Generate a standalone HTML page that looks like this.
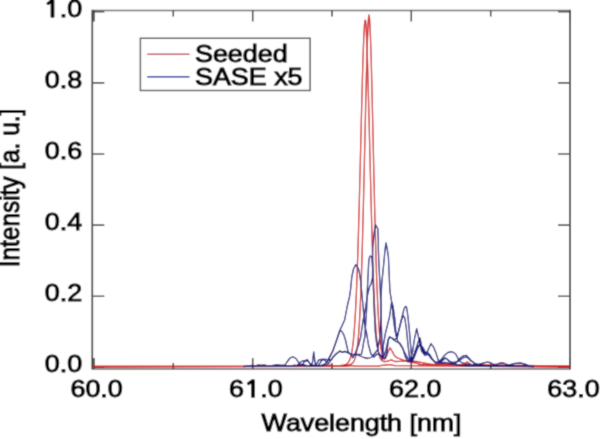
<!DOCTYPE html>
<html><head><meta charset="utf-8"><style>
html,body{margin:0;padding:0;background:#fff;}
svg{display:block;}
text{font-family:"Liberation Sans",Arial,sans-serif;font-size:24px;fill:#000;stroke:#000;stroke-width:1.05px;}
.o{font-family:"NanumGothic","Liberation Sans",sans-serif;stroke-width:1.7px;}
</style></head><body>
<svg width="600" height="439" viewBox="0 0 600 439">
<rect width="600" height="439" fill="#fff"/>
<defs><filter id="bl" x="0" y="0" width="600" height="439" filterUnits="userSpaceOnUse"><feConvolveMatrix order="3" kernelMatrix="0.0277 0.1110 0.0277 0.1110 0.4452 0.1110 0.0277 0.1110 0.0277" divisor="1" edgeMode="duplicate"/></filter></defs>
<g filter="url(#bl)">
<rect width="600" height="439" fill="#fff"/>
<path d="M92.3,9.8V369.59999999999997M570.0,9.8V369.59999999999997" stroke="#262626" stroke-width="1.6"/>
<path d="M92.3,10.5H570.0M92.3,368.9H570.0" stroke="#6e6e6e" stroke-width="1.5"/>
<path d="M92.3,367.3h12M570.0,367.3h-12" stroke="#555" stroke-width="1.6"/>
<path d="M92.3,296.2h12M570.0,296.2h-12" stroke="#555" stroke-width="1.6"/>
<path d="M92.3,225.1h12M570.0,225.1h-12" stroke="#555" stroke-width="1.6"/>
<path d="M92.3,154.0h12M570.0,154.0h-12" stroke="#555" stroke-width="1.6"/>
<path d="M92.3,82.9h12M570.0,82.9h-12" stroke="#555" stroke-width="1.6"/>
<path d="M92.3,11.8h12M570.0,11.8h-12" stroke="#555" stroke-width="1.6"/>
<path d="M94.0,368.9v-11M94.0,10.5v11" stroke="#333" stroke-width="1.5"/>
<path d="M173.3,368.9v-6M173.3,10.5v6" stroke="#333" stroke-width="1.5"/>
<path d="M252.7,368.9v-11M252.7,10.5v11" stroke="#333" stroke-width="1.5"/>
<path d="M332.0,368.9v-6M332.0,10.5v6" stroke="#333" stroke-width="1.5"/>
<path d="M411.3,368.9v-11M411.3,10.5v11" stroke="#333" stroke-width="1.5"/>
<path d="M490.7,368.9v-6M490.7,10.5v6" stroke="#333" stroke-width="1.5"/>
<path d="M570.0,368.9v-11M570.0,10.5v11" stroke="#333" stroke-width="1.5"/>
<text transform="translate(82.2,372.2) scale(1.12,1)" text-anchor="end">0.0</text>
<text transform="translate(82.2,301.1) scale(1.12,1)" text-anchor="end">0.2</text>
<text transform="translate(82.2,230.0) scale(1.12,1)" text-anchor="end">0.4</text>
<text transform="translate(82.2,158.9) scale(1.12,1)" text-anchor="end">0.6</text>
<text transform="translate(82.2,87.8) scale(1.12,1)" text-anchor="end">0.8</text>
<text transform="translate(82.2,16.7) scale(1.12,1)" text-anchor="end"><tspan class="o">1</tspan>.0</text>
<text transform="translate(96.6,396.8) scale(1.12,1)" text-anchor="middle">60.0</text>
<text transform="translate(255.8,396.8) scale(1.12,1)" text-anchor="middle">6<tspan class="o">1</tspan>.0</text>
<text transform="translate(415.2,396.8) scale(1.12,1)" text-anchor="middle">62.0</text>
<text transform="translate(573.5,396.8) scale(1.12,1)" text-anchor="middle">63.0</text>
<text transform="translate(261.6,431) scale(1.14,1)" style="font-size:23.5px">Wavelength [nm]</text>
<text transform="translate(19.4,188) rotate(-90) scale(1,1.10)" text-anchor="middle" style="font-size:24.4px">Intensity [a. u.]</text>
<rect x="140.4" y="38.3" width="169.7" height="52.2" fill="#fff" stroke="#4a4a4a" stroke-width="1.4"/>
<path d="M147.2,54.2H189.5" stroke="#c05a5a" stroke-width="1.5"/>
<path d="M147.2,76.7H189.5" stroke="#2c2ca0" stroke-width="1.5"/>
<text transform="translate(195,61.9) scale(1.12,1)">Seeded</text>
<text transform="translate(195,85) scale(1.12,1)">SASE x5</text>
<path d="M93.0,367.2 345.0,366.4 345.5,366.3 346.0,366.3 346.5,366.2 347.0,366.2 347.5,366.1 348.0,366.1 348.5,366.1 349.0,366.0 349.5,365.9 350.0,365.9 350.5,365.8 351.0,365.8 351.5,365.8 352.0,365.7 352.5,365.8 353.0,365.8 353.5,365.9 354.0,365.9 354.5,366.0 355.0,366.1 355.5,366.1 356.0,366.2 378.0,366.2 378.5,366.1 379.0,366.0 379.5,365.9 380.0,365.8 380.5,365.7 381.0,365.6 381.5,365.5 382.0,365.4 382.5,365.3 383.0,365.2 383.5,365.2 384.0,365.1 384.5,365.1 385.0,365.1 385.5,365.0 386.0,365.0 386.5,364.9 387.0,364.9 387.5,364.9 388.0,364.8 388.5,364.8 389.0,364.8 389.5,364.7 390.0,364.7 390.5,364.8 391.0,364.9 391.5,365.0 392.0,365.1 392.5,365.2 393.0,365.3 393.5,365.4 394.0,365.5 394.5,365.6 395.0,365.7 569.5,367.1 570.0,367.2" fill="none" stroke="#d01818" stroke-width="1.3" stroke-linejoin="round"/>
<path d="M93.0,366.3 290.0,366.3 290.5,366.2 291.0,366.0 291.5,365.9 292.0,365.8 292.5,365.6 293.0,365.5 293.5,365.4 294.0,365.2 294.5,365.1 295.0,365.2 295.5,365.4 296.0,365.5 296.5,365.6 297.0,365.8 297.5,365.9 298.0,366.0 298.5,366.2 299.0,366.3 326.0,366.3 326.5,366.1 327.0,366.0 327.5,365.8 328.0,365.7 328.5,365.5 329.0,365.4 329.5,365.2 330.0,365.1 330.5,365.2 331.0,365.3 331.5,365.4 332.0,365.5 332.5,365.7 333.0,365.8 333.5,365.9 334.0,366.0 345.0,365.5 345.5,365.4 346.0,365.4 346.5,365.3 347.0,365.2 347.5,365.1 348.0,365.0 348.5,364.9 349.0,364.8 349.5,364.7 350.0,364.6 350.5,364.4 351.0,364.1 351.5,363.9 352.0,363.5 352.5,363.1 353.0,362.5 353.5,361.9 354.0,361.0 354.5,360.0 355.0,358.6 355.5,357.0 356.0,354.9 356.5,352.2 357.0,349.0 357.5,345.4 358.0,340.9 358.5,335.4 359.0,328.8 359.5,320.9 360.0,311.6 360.5,300.6 361.0,287.9 361.5,273.6 362.0,257.6 362.5,240.1 363.0,221.0 363.5,200.7 364.0,179.3 364.5,157.3 365.0,134.9 365.5,112.8 366.0,91.4 366.5,71.4 367.0,53.4 367.5,38.1 368.0,26.1 368.5,18.1 369.0,15.0 369.5,18.1 370.0,26.1 370.5,38.2 371.0,53.6 371.5,71.6 372.0,91.7 372.5,113.1 373.0,135.3 373.5,157.7 374.0,179.8 374.5,201.3 375.0,221.7 375.5,240.8 376.0,258.4 376.5,273.7 377.0,287.4 377.5,299.5 378.0,310.0 378.5,318.9 379.0,326.5 379.5,333.4 380.0,339.2 380.5,344.0 381.0,348.0 381.5,351.2 382.0,353.6 382.5,355.5 383.0,357.0 383.5,358.2 384.0,359.0 384.5,358.9 385.0,358.5 385.5,358.1 386.0,357.5 386.5,356.2 387.0,354.9 387.5,353.5 388.0,352.1 388.5,351.0 389.0,350.0 389.5,348.9 390.0,347.8 390.5,348.6 391.0,349.4 391.5,350.2 392.0,351.0 392.5,351.9 393.0,352.9 393.5,353.9 394.0,354.9 394.5,355.6 395.0,356.0 395.5,356.5 396.0,357.0 396.5,357.4 397.0,357.7 397.5,357.9 398.0,358.1 398.5,358.3 399.0,358.5 399.5,358.7 400.0,358.9 400.5,359.1 401.0,359.3 401.5,359.5 402.0,359.7 402.5,359.9 403.0,360.0 403.5,360.2 404.0,360.4 404.5,360.6 405.0,360.7 405.5,360.9 406.0,361.0 406.5,361.2 407.0,361.3 407.5,361.5 408.0,361.6 408.5,361.8 409.0,361.9 409.5,362.1 410.0,362.2 410.5,362.3 411.0,362.3 411.5,362.4 412.0,362.5 412.5,362.5 413.0,362.6 413.5,362.7 414.0,362.7 414.5,362.8 415.0,362.9 415.5,362.9 416.0,363.0 416.5,363.1 417.0,363.2 417.5,363.4 418.0,363.7 418.5,363.9 419.0,364.1 419.5,364.3 420.0,364.5 420.5,364.5 421.0,364.6 421.5,364.6 422.0,364.6 422.5,364.7 423.0,364.7 423.5,364.7 424.0,364.8 424.5,364.8 425.0,364.8 425.5,364.8 426.0,364.9 426.5,364.9 427.0,364.9 427.5,365.0 428.0,365.0 463.0,364.8 463.5,364.5 464.0,364.1 464.5,363.8 465.0,363.4 465.5,363.1 466.0,362.7 466.5,362.4 467.0,362.0 467.5,362.0 468.0,362.4 468.5,362.8 469.0,363.2 469.5,363.6 470.0,364.0 470.5,364.4 471.0,364.8 471.5,364.9 472.0,364.9 472.5,364.9 473.0,365.0 473.5,365.1 474.0,365.1 474.5,365.2 475.0,365.2 475.5,365.2 476.0,365.3 476.5,365.4 477.0,365.4 477.5,365.4 478.0,365.5 478.5,365.6 479.0,365.6 479.5,365.7 480.0,365.7 569.5,366.1 570.0,366.3" fill="none" stroke="#d01818" stroke-width="1.3" stroke-linejoin="round"/>
<path d="M93.0,366.3 260.0,366.3 260.5,366.2 261.0,366.0 261.5,365.9 262.0,365.7 262.5,365.6 263.0,365.4 263.5,365.2 264.0,365.1 264.5,365.2 265.0,365.4 265.5,365.6 266.0,365.7 266.5,365.9 267.0,366.0 267.5,366.2 268.0,366.3 340.0,365.7 340.5,365.6 341.0,365.5 341.5,365.5 342.0,365.4 342.5,365.3 343.0,365.2 343.5,365.1 344.0,365.0 344.5,364.9 345.0,364.7 345.5,364.5 346.0,364.3 346.5,364.1 347.0,363.7 347.5,363.3 348.0,362.8 348.5,362.1 349.0,361.3 349.5,360.4 350.0,359.1 350.5,357.7 351.0,355.9 351.5,353.7 352.0,350.9 352.5,347.6 353.0,343.6 353.5,339.1 354.0,333.7 354.5,327.3 355.0,319.8 355.5,311.1 356.0,301.1 356.5,289.9 357.0,277.2 357.5,263.2 358.0,247.8 358.5,231.1 359.0,213.2 359.5,194.3 360.0,174.6 360.5,154.2 361.0,133.7 361.5,113.5 362.0,93.9 362.5,75.6 363.0,59.0 363.5,44.6 364.0,33.0 364.5,24.6 365.0,20.1 365.5,20.6 366.0,26.0 366.5,35.1 367.0,47.3 367.5,62.2 368.0,79.2 368.5,97.8 369.0,117.5 369.5,137.8 370.0,158.3 370.5,178.6 371.0,198.4 371.5,217.4 372.0,235.3 372.5,252.0 373.0,267.4 373.5,281.4 374.0,294.0 374.5,305.3 375.0,315.2 375.5,323.8 376.0,331.2 376.5,337.2 377.0,342.1 377.5,346.2 378.0,349.6 378.5,352.3 379.0,354.4 379.5,356.2 380.0,357.7 380.5,358.8 381.0,359.7 381.5,360.3 382.0,360.7 382.5,361.0 383.0,361.2 383.5,361.4 384.0,361.5 384.5,361.5 385.5,361.5 386.0,361.5 386.5,361.4 387.0,361.3 387.5,361.2 388.0,361.1 388.5,360.9 389.0,360.7 389.5,360.5 390.0,360.3 390.5,360.1 391.0,359.9 391.5,359.9 392.0,360.2 392.5,360.4 393.0,360.6 393.5,360.8 394.0,361.1 394.5,361.3 395.0,361.5 400.0,361.3 400.5,361.3 401.0,361.2 401.5,361.2 402.0,361.2 402.5,361.1 403.0,361.1 416.5,361.5 417.0,361.6 417.5,361.7 418.0,361.8 418.5,361.9 419.0,362.0 419.5,362.1 420.0,362.2 420.5,362.4 421.0,362.5 421.5,362.6 422.0,362.7 422.5,362.8 423.0,362.9 423.5,363.0 424.0,363.1 424.5,363.1 425.0,363.2 425.5,363.3 426.0,363.4 426.5,363.5 427.0,363.6 427.5,363.7 428.0,363.7 428.5,363.8 429.0,363.9 429.5,364.0 430.0,364.1 430.5,364.2 431.0,364.2 431.5,364.3 432.0,364.4 432.5,364.5 433.0,364.5 433.5,364.4 434.0,364.4 434.5,364.3 435.0,364.3 435.5,364.2 436.0,364.2 436.5,364.2 437.0,364.1 437.5,364.1 438.0,364.0 438.5,364.0 439.0,363.9 439.5,363.9 440.0,363.8 440.5,363.8 441.0,363.8 441.5,363.7 442.0,363.7 442.5,363.8 443.0,363.8 443.5,363.9 444.0,364.0 444.5,364.0 445.0,364.1 445.5,364.1 446.0,364.2 446.5,364.2 447.0,364.3 569.5,366.1 570.0,366.3" fill="none" stroke="#d01818" stroke-width="1.3" stroke-linejoin="round"/>
<path d="M243.0,366.5 250.0,366.0 255.0,365.8 259.0,365.0 262.0,366.0 268.0,366.2 275.0,365.5 280.0,365.4 284.0,365.6 288.0,366.0 296.0,366.2 300.0,365.6 304.0,364.8 308.0,365.8 311.0,365.5 312.6,362.0 313.7,351.9 315.0,362.0 316.0,365.2 320.0,365.6 323.0,365.0 326.8,362.4 330.0,356.4 332.8,351.0 336.0,341.9 338.2,335.5 339.6,330.9 341.9,326.0 344.6,320.0 347.3,306.0 349.6,296.4 350.7,288.5 351.8,277.0 353.5,269.0 355.8,264.6 358.1,268.0 359.2,271.4 360.5,280.0 362.5,300.5 363.9,315.5 364.6,325.0 366.6,333.0 368.5,345.0 371.0,354.0 374.0,357.0 377.0,354.0 380.6,355.4 383.5,356.9 386.0,350.0 388.3,339.2 389.6,336.7 393.0,339.0 396.0,341.5 399.1,343.0 402.3,347.8 406.3,355.8 409.5,361.4 411.1,361.4 413.0,357.0 416.7,347.8 419.9,344.7 423.1,347.8 426.5,354.3 428.3,354.3 431.8,359.0 435.4,362.6 438.0,362.0 441.3,361.4 445.4,357.9 449.6,361.4 455.0,364.5 462.0,365.5 470.0,366.0 480.0,366.2 534.0,366.3" fill="none" stroke="#18187c" stroke-width="1.3" stroke-linejoin="round"/>
<path d="M245.0,366.3 252.0,365.5 258.0,366.0 266.0,365.6 272.0,366.0 280.0,365.8 285.0,365.0 287.0,362.0 290.0,358.0 293.0,356.8 296.0,358.5 299.0,363.2 301.0,365.0 306.0,366.0 312.0,365.5 318.0,366.0 324.0,365.5 328.0,364.0 331.0,360.0 333.7,356.4 336.4,353.7 340.0,351.0 341.9,352.3 344.6,351.4 347.3,352.3 350.0,353.7 352.8,354.6 356.5,354.4 359.2,354.4 361.3,354.7 362.3,350.3 363.5,343.0 364.8,337.0 365.6,325.0 366.6,310.0 367.3,291.0 368.0,277.0 368.7,262.0 369.4,257.5 370.2,256.0 371.2,256.5 372.1,258.5 372.8,270.0 373.5,291.0 374.2,310.0 375.3,332.0 376.7,344.0 378.3,351.7 382.5,359.2 383.4,345.0 385.5,332.9 389.6,316.5 391.6,302.0 393.0,306.0 395.0,320.0 396.0,335.0 398.0,342.0 400.0,343.3 402.5,347.5 405.0,355.8 407.5,361.7 410.0,360.8 412.7,351.0 414.3,339.9 416.7,328.7 419.1,339.9 421.5,351.0 423.9,354.2 426.0,352.0 427.8,352.6 430.0,355.0 433.0,360.0 436.0,363.0 440.0,361.0 444.9,354.9 448.0,352.5 452.0,351.7 455.5,353.7 459.0,360.2 461.4,362.6 466.0,363.8 472.0,364.6 478.0,364.5 483.0,363.2 487.0,362.2 490.0,362.5 494.0,364.5 497.0,364.2 500.0,363.0 503.0,362.9 507.0,364.5 512.0,365.8 520.0,366.2 534.0,366.5" fill="none" stroke="#18187c" stroke-width="1.3" stroke-linejoin="round"/>
<path d="M247.0,366.4 254.0,366.0 260.0,365.4 265.0,366.0 273.0,365.8 281.0,366.0 290.0,366.2 297.0,365.8 300.6,362.0 303.0,360.7 305.0,361.5 307.3,359.5 309.5,363.0 312.0,365.8 318.0,365.8 322.7,359.2 331.0,360.0 333.7,356.4 336.4,353.7 340.0,351.0 341.9,352.3 344.6,351.4 347.3,352.3 350.0,353.7 352.8,354.6 356.5,354.4 360.0,356.0 364.0,357.5 368.0,358.5 372.0,357.0 375.0,353.0 377.5,350.0 379.5,340.0 380.7,325.0 381.0,310.0 381.0,298.0 381.7,284.0 383.7,264.0 385.0,250.0 386.0,242.8 387.3,249.6 388.4,256.8 389.0,270.5 389.9,291.0 391.6,301.5 392.6,310.0 393.0,316.0 395.2,331.9 397.2,338.5 399.1,328.7 402.3,316.0 404.0,309.0 405.5,306.4 406.5,307.0 407.9,316.0 409.5,331.9 411.1,351.0 411.9,360.6 414.0,358.0 417.0,350.0 419.7,344.3 422.0,347.0 424.0,352.0 426.5,354.3 428.3,349.6 430.9,343.7 433.6,347.2 436.0,353.1 438.3,360.2 441.3,361.4 443.0,359.5 445.4,357.9 447.5,359.5 449.6,361.4 453.0,362.5 457.0,362.0 460.0,360.0 463.0,358.0 466.0,357.0 468.0,358.0 471.0,361.0 475.0,363.5 480.0,365.0 485.0,366.0 534.0,366.3" fill="none" stroke="#18187c" stroke-width="1.3" stroke-linejoin="round"/>
<path d="M249.0,366.2 256.0,365.8 263.0,365.2 270.0,366.0 277.0,365.0 283.0,365.6 291.0,366.0 298.0,365.5 303.0,363.8 305.0,360.5 308.0,361.0 310.0,364.0 314.0,365.5 317.0,363.5 318.7,359.9 321.0,359.5 324.6,359.9 326.8,362.4 330.0,356.4 332.8,351.0 336.0,341.9 338.2,335.5 339.6,331.5 340.8,330.6 342.2,332.0 343.7,334.6 345.5,340.0 346.8,346.0 348.3,352.3 351.0,354.7 352.7,357.8 355.1,353.7 357.2,348.2 358.7,344.7 360.7,337.0 362.8,322.0 365.2,310.0 367.5,295.0 369.4,287.0 371.0,284.0 372.5,278.0 372.6,268.0 372.4,258.0 372.8,246.9 373.7,237.8 374.6,229.6 375.7,225.0 377.8,228.7 378.3,240.0 378.4,250.0 378.9,264.0 379.6,277.0 380.3,291.0 381.0,310.0 381.5,330.0 382.0,345.0 383.0,357.0 385.0,358.5 387.0,352.0 388.3,340.0 390.0,337.0 392.0,338.0 394.0,340.0 396.5,338.0 399.0,330.0 401.5,320.0 403.3,315.6 404.8,318.0 406.3,328.0 408.0,345.0 409.5,358.0 411.0,362.0 412.5,361.5 415.0,351.7 418.3,341.7 420.0,337.8 422.4,349.6 424.7,355.5 428.3,354.3 431.8,359.0 435.4,362.6 440.0,363.0 445.0,362.5 450.0,363.5 455.0,364.3 459.0,359.0 463.0,356.0 466.2,355.3 470.9,360.2 474.4,363.2 479.2,365.0 485.0,365.8 495.0,366.0 505.0,365.6 511.0,364.5 515.0,363.4 520.5,363.0 526.0,364.5 530.0,366.0 534.0,366.5" fill="none" stroke="#18187c" stroke-width="1.3" stroke-linejoin="round"/>
</g>
</svg>
</body></html>
